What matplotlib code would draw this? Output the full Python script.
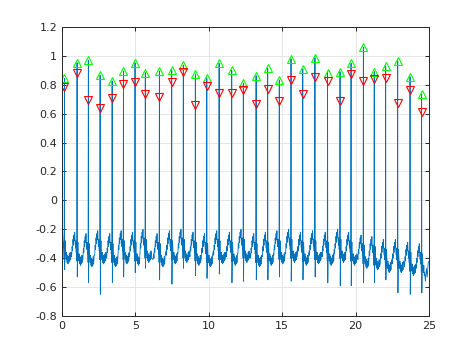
import numpy as np
import matplotlib
matplotlib.use("Agg")
import matplotlib.pyplot as plt

# R-peak times (s), peak heights (green ^) and the red v values on each spike
r_times = [0.16, 1.02, 1.79, 2.59, 3.41, 4.18, 4.97, 5.67, 6.63, 7.47,
           8.26, 9.08, 9.86, 10.70, 11.56, 12.35, 13.22, 14.01, 14.80, 15.60,
           16.40, 17.23, 18.09, 18.94, 19.69, 20.53, 21.27, 22.05, 22.87, 23.71,
           24.50]
r_peaks = [0.845, 0.953, 0.971, 0.866, 0.827, 0.896, 0.953, 0.884, 0.896, 0.903,
           0.937, 0.873, 0.845, 0.949, 0.902, 0.810, 0.863, 0.914, 0.833, 0.979,
           0.909, 0.988, 0.884, 0.891, 0.949, 1.060, 0.891, 0.930, 0.965, 0.856,
           0.734]
red_vals = [0.787, 0.880, 0.695, 0.642, 0.711, 0.806, 0.817, 0.736, 0.718, 0.821,
            0.887, 0.660, 0.792, 0.745, 0.745, 0.764, 0.665, 0.771, 0.688, 0.833,
            0.734, 0.856, 0.826, 0.690, 0.873, 0.826, 0.840, 0.845, 0.672, 0.764,
            0.614]
# S-wave trough after each spike
s_troughs = [-0.48, -0.53, -0.57, -0.65, -0.57, -0.53, -0.50, -0.47, -0.55, -0.58,
             -0.47, -0.52, -0.54, -0.51, -0.57, -0.56, -0.55, -0.55, -0.53, -0.56,
             -0.55, -0.53, -0.57, -0.59, -0.59, -0.57, -0.57, -0.55, -0.64, -0.65,
             -0.64]
# baseline level around each beat
baselines = [-0.36, -0.37, -0.38, -0.36, -0.38, -0.36, -0.37, -0.35, -0.38, -0.36,
             -0.35, -0.37, -0.38, -0.36, -0.37, -0.35, -0.38, -0.37, -0.36, -0.35,
             -0.37, -0.36, -0.37, -0.35, -0.37, -0.39, -0.40, -0.42, -0.42, -0.44,
             -0.45]

# one beat shape (offset from R in s, value above baseline)
beat_offsets = [-0.44, -0.40, -0.37, -0.34, -0.31, -0.28, -0.25, -0.22, -0.19, -0.16,
                -0.13, -0.10, -0.08, -0.06, -0.04, -0.02, 0.0, 0.015, 0.04, 0.06,
                0.09, 0.12, 0.15, 0.18, 0.21, 0.24, 0.27, 0.30, 0.33, 0.36, 0.39, 0.42]
beat_shape = [-0.03, 0.01, -0.02, 0.05, 0.02, 0.10, 0.06, 0.13, 0.09, 0.15,
              0.07, 0.04, 0.09, 0.01, 0.06, -0.05, None, None, 0.04, 0.08,
              -0.01, -0.05, 0.00, -0.07, -0.02, -0.08, -0.03, -0.07, -0.01, -0.06,
              0.00, -0.05]

# start and end of the recording
lead_t = [0.0, 0.03, 0.06, 0.09, 0.12]
lead_v = [-0.12, -0.20, -0.27, -0.30, -0.34]
tail_t = [24.70, 24.76, 24.82, 24.88, 24.94, 25.0]
tail_v = [-0.50, -0.56, -0.47, -0.53, -0.44, -0.42]

t_all = list(lead_t)
v_all = list(lead_v)
n = len(r_times)
for i in range(n):
    tr = r_times[i]
    lo = lead_t[-1] if i == 0 else (r_times[i - 1] + tr) / 2
    hi = tail_t[0] if i == n - 1 else (tr + r_times[i + 1]) / 2
    for off, val in zip(beat_offsets, beat_shape):
        t = tr + off
        if t <= lo or t >= hi:
            continue
        if off == 0.0:
            v = r_peaks[i]
        elif off == 0.015:
            v = s_troughs[i]
        else:
            v = baselines[i] + val
        t_all.append(t)
        v_all.append(v)
        if off == 0.0:
            # red marker value lies on the falling edge of the spike
            t_all.append(t + 0.001)
            v_all.append(red_vals[i])
t_all += tail_t
v_all += tail_v

fig = plt.figure(figsize=(4.74, 3.55), dpi=100)
ax = fig.add_axes([0.131, 0.110, 0.774, 0.814])

ax.plot(t_all, v_all, color="#0072BD", linewidth=0.6)
ax.plot(r_times, r_peaks, linestyle="none", marker="^", markersize=6,
        markerfacecolor="none", markeredgecolor="#00ff00", markeredgewidth=0.8)
ax.plot(r_times, red_vals, linestyle="none", marker="v", markersize=6,
        markerfacecolor="none", markeredgecolor="#ff0000", markeredgewidth=0.8)

ax.set_xlim(0, 25)
ax.set_ylim(-0.8, 1.2)
ax.set_xticks([0, 5, 10, 15, 20, 25])
yt = np.round(np.arange(-0.8, 1.21, 0.2), 1)
ax.set_yticks(yt)
ax.set_yticklabels(["0" if abs(v) < 1e-9 else ("1" if v == 1 else f"{v:g}") for v in yt])
ax.grid(True, color="#e6e6e6", linewidth=0.7)
ax.set_axisbelow(True)
ax.tick_params(direction="in", length=3, width=0.7, top=True, right=True,
               labelsize=8, colors="#262626")
for sp in ax.spines.values():
    sp.set_color("#262626")
    sp.set_linewidth(0.7)

fig.savefig("out.png", dpi=100)
